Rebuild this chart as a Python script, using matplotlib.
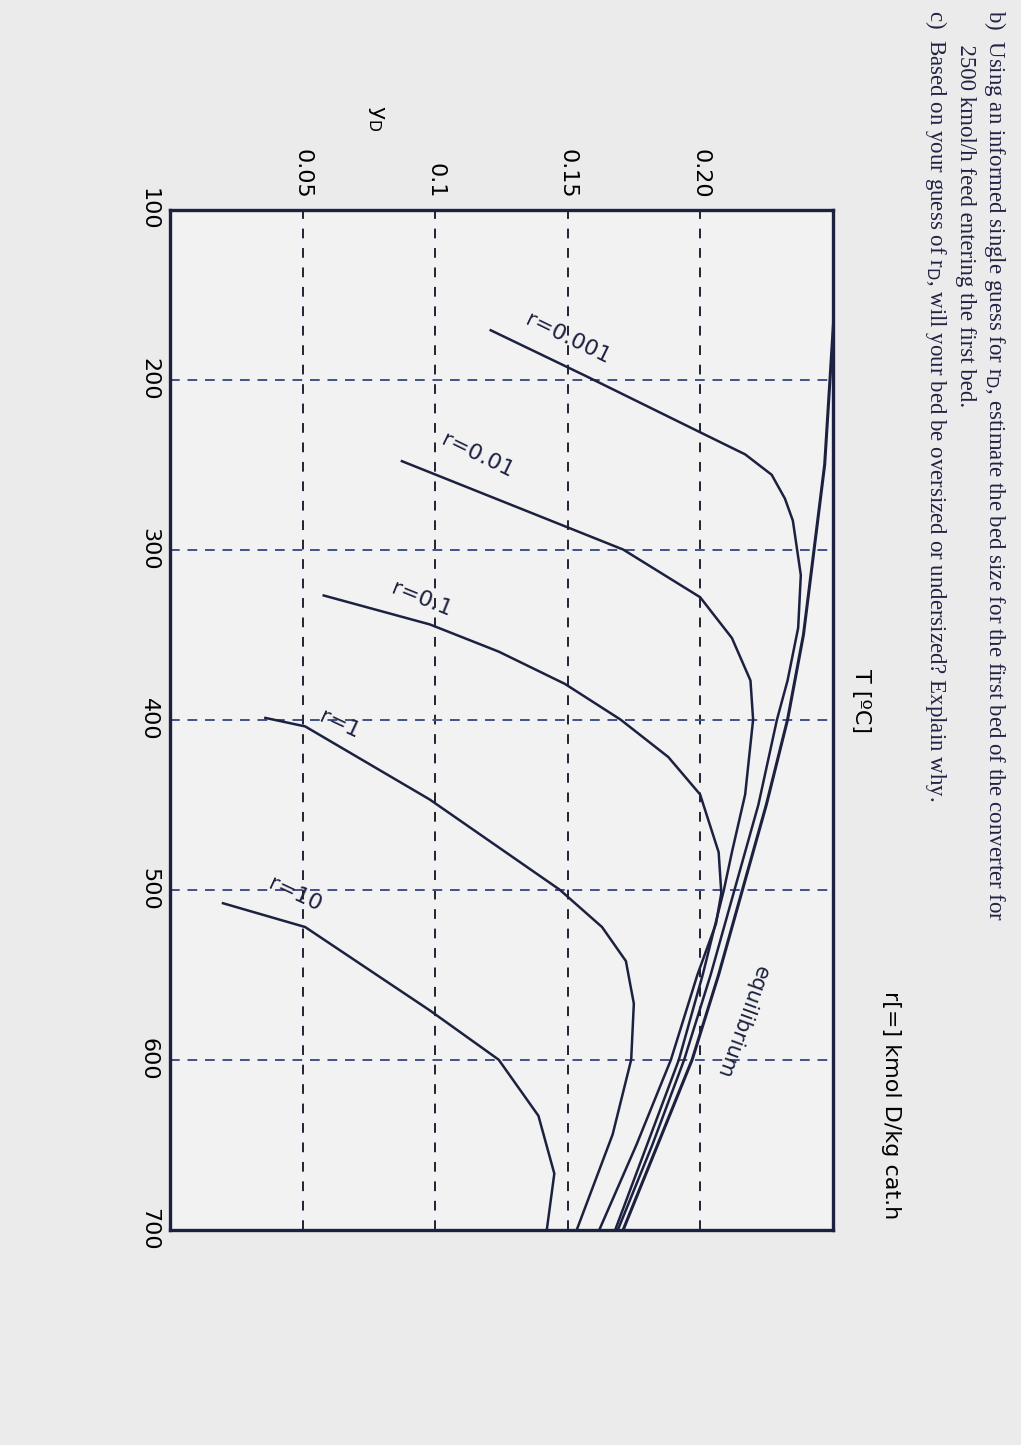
import numpy as np
import matplotlib.pyplot as plt

# the photo is turned a quarter turn: T runs down the page, yD runs to the right
eq_T = [100, 150, 200, 250, 300, 350, 400, 450, 500, 550, 600, 650, 700]
eq_y = [0.252, 0.251, 0.249, 0.247, 0.243, 0.239, 0.233, 0.225, 0.216, 0.207, 0.197, 0.184, 0.171]

curves = {
    "r=0.001": ([171, 198, 231, 244, 256, 270, 283, 315, 346, 377, 400, 450, 500, 550, 600, 650, 700],
                [0.121, 0.157, 0.200, 0.217, 0.227, 0.232, 0.235, 0.238, 0.237, 0.233, 0.229, 0.222, 0.213, 0.204, 0.194, 0.182, 0.169]),
    "r=0.01": ([248, 300, 328, 352, 377, 400, 444, 478, 500, 550, 600, 650, 700],
               [0.0875, 0.171, 0.200, 0.212, 0.219, 0.220, 0.217, 0.212, 0.209, 0.201, 0.192, 0.180, 0.168]),
    "r=0.1": ([327, 344, 360, 379, 400, 422, 444, 478, 502, 520, 550, 600, 650, 700],
              [0.058, 0.098, 0.124, 0.149, 0.170, 0.188, 0.200, 0.207, 0.208, 0.206, 0.199, 0.189, 0.176, 0.162]),
    "r=1": ([399, 404, 447, 500, 522, 542, 567, 600, 644, 702],
            [0.036, 0.051, 0.098, 0.147, 0.163, 0.172, 0.175, 0.174, 0.167, 0.153]),
    "r=10": ([508, 522, 571, 600, 633, 667, 702],
             [0.020, 0.051, 0.098, 0.124, 0.139, 0.145, 0.142]),
}
label_pos = {
    "r=0.001": (0.150, 176, -26),
    "r=0.01": (0.116, 245, -26),
    "r=0.1": (0.095, 329, -22),
    "r=1": (0.064, 403, -25),
    "r=10": (0.047, 503, -25),
}

yd_ticks = [0.05, 0.1, 0.15, 0.20]
yd_labels = ["0.05", "0.1", "0.15", "0.20"]
t_ticks = [100, 200, 300, 400, 500, 600, 700]

fig = plt.figure(figsize=(10.21, 14.45), dpi=100)
fig.patch.set_facecolor("#ebebeb")
ax = fig.add_axes([0.1665, 0.149, 0.649, 0.706])
ax.set_facecolor("#f2f2f2")

ax.set_xlim(0, 0.25)
ax.set_ylim(700, 100)

for v in yd_ticks:
    ax.axvline(v, color="#222233", ls=(0, (5, 5)), lw=1.4)
for t in t_ticks[1:-1]:
    ax.axhline(t, color="#44508a", ls=(0, (5, 4)), lw=1.4)

col = "#1c2140"
ax.plot(eq_y, eq_T, color=col, lw=2.2)
for name, (T, y) in curves.items():
    ax.plot(y, T, color=col, lw=1.8)
    lx, lt, rot = label_pos[name]
    ax.text(lx, lt, name, rotation=rot, fontsize=16, color=col, ha="center", va="center",
            rotation_mode="anchor")
ax.text(0.216, 578, "equilibrium", rotation=-110, fontsize=15, color=col, ha="center", va="center",
        rotation_mode="anchor")

for s in ax.spines.values():
    s.set_linewidth(2.4)
    s.set_color(col)

ax.xaxis.tick_top()
ax.set_xticks(yd_ticks)
ax.set_xticklabels(yd_labels, rotation=-90, fontsize=16)
ax.set_yticks(t_ticks)
ax.set_yticklabels([str(t) for t in t_ticks], rotation=-90, fontsize=16, va="center")
ax.tick_params(length=0, pad=8)

fig.text(0.368, 0.918, "y$_\\mathrm{D}$", rotation=-90, fontsize=16, ha="center", va="center")
fig.text(0.843, 0.515, "T [ºC]", rotation=-90, fontsize=16, ha="center", va="center")
fig.text(0.873, 0.235, "r[=] kmol D/kg cat.h", rotation=-90, fontsize=16, ha="center", va="center")

q = ["b)  Using an informed single guess for r$_\\mathrm{D}$, estimate the bed size for the first bed of the converter for",
     "      2500 kmol/h feed entering the first bed.",
     "c)  Based on your guess of r$_\\mathrm{D}$, will your bed be oversized or undersized? Explain why."]
for i, line in enumerate(q):
    fig.text(0.975 - i * 0.029, 0.993, line, rotation=-90, fontsize=16.5, family="Liberation Serif",
             ha="center", va="top", color="#222244")

plt.savefig("out.png")
